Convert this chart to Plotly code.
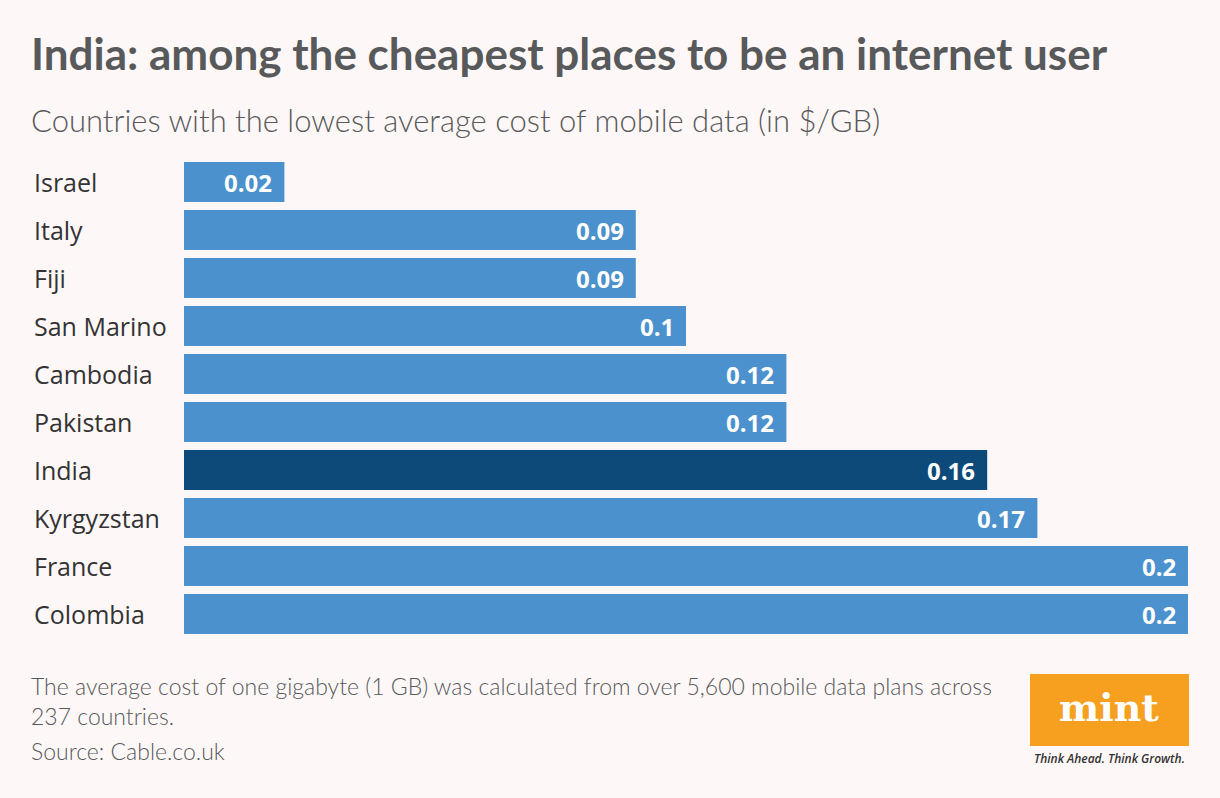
import plotly.graph_objects as go

countries = ["Israel", "Italy", "Fiji", "San Marino", "Cambodia", "Pakistan",
             "India", "Kyrgyzstan", "France", "Colombia"]
costs = [0.02, 0.09, 0.09, 0.10, 0.12, 0.12, 0.16, 0.17, 0.20, 0.20]
value_labels = ["0.02", "0.09", "0.09", "0.1", "0.12", "0.12", "0.16", "0.17", "0.2", "0.2"]
highlight = "India"

W, H = 1220, 798
L, R, T, B = 184, 32, 158, 160
PW, PH = W - L - R, H - T - B

def px(x):
    return (x - L) / PW

def py(y):
    return (H - B - y) / PH

BLUE = "#4b91cd"
DARK = "#0d4a7a"
BG = "#fdf8f7"
colors = [DARK if c == highlight else BLUE for c in countries]

fig = go.Figure(go.Bar(
    x=costs, y=countries, orientation="h",
    marker=dict(color=colors, line=dict(width=0)),
    hoverinfo="skip",
))

fig.update_layout(
    width=W, height=H,
    margin=dict(l=L, r=R, t=T, b=B),
    paper_bgcolor=BG, plot_bgcolor=BG,
    bargap=8 / 48,
    showlegend=False,
    xaxis=dict(range=[0, 0.2], visible=False, fixedrange=True),
    yaxis=dict(autorange="reversed", showticklabels=False, showgrid=False,
               zeroline=False, fixedrange=True),
)

ann = []
for c, v, lab in zip(countries, costs, value_labels):
    ann.append(dict(text=c, x=px(32), y=c, xref="paper", yref="y",
                    xanchor="left", yanchor="middle", showarrow=False,
                    font=dict(family="Open Sans", size=25, color="#333333")))
    ann.append(dict(text=lab, x=v, y=c, xref="x", yref="y", xshift=-10,
                    xanchor="right", yanchor="middle", showarrow=False,
                    font=dict(family="Open Sans", size=24, color="white", weight=700)))

ann.append(dict(text="India: among the cheapest places to be an internet user",
                x=px(29), y=py(53), xref="paper", yref="paper", xanchor="left",
                yanchor="middle", showarrow=False,
                font=dict(family="Lato", size=44, color="#58595b", weight=700)))
ann.append(dict(text="Countries with the lowest average cost of mobile data (in $/GB)",
                x=px(29), y=py(120), xref="paper", yref="paper", xanchor="left",
                yanchor="middle", showarrow=False,
                font=dict(family="Lato", size=31, color="#58595b", weight=300)))
ann.append(dict(text="The average cost of one gigabyte (1 GB) was calculated from over 5,600 mobile data plans across<br>237 countries.",
                x=px(29), y=py(701), xref="paper", yref="paper", xanchor="left",
                yanchor="middle", align="left", showarrow=False,
                font=dict(family="Lato", size=23, color="#58595b", weight=300)))
ann.append(dict(text="Source: Cable.co.uk",
                x=px(29), y=py(751), xref="paper", yref="paper", xanchor="left",
                yanchor="middle", showarrow=False,
                font=dict(family="Lato", size=23, color="#58595b", weight=300)))
# logo
ann.append(dict(text="mint", x=px(1109), y=py(707), xref="paper", yref="paper",
                xanchor="center", yanchor="middle", showarrow=False,
                font=dict(family="DejaVu Serif", size=38, color="white", weight=700)))
ann.append(dict(text="<i>Think Ahead. Think Growth.</i>", x=px(1109), y=py(758),
                xref="paper", yref="paper", xanchor="center", yanchor="middle",
                showarrow=False,
                font=dict(family="Open Sans", size=12, color="#333333", weight=600)))
fig.update_layout(annotations=ann)

fig.add_shape(type="rect", xref="paper", yref="paper",
              x0=px(1030), x1=px(1189), y0=py(746), y1=py(674),
              fillcolor="#f7a01f", line=dict(width=0), layer="below")

fig.write_html("out.html")
